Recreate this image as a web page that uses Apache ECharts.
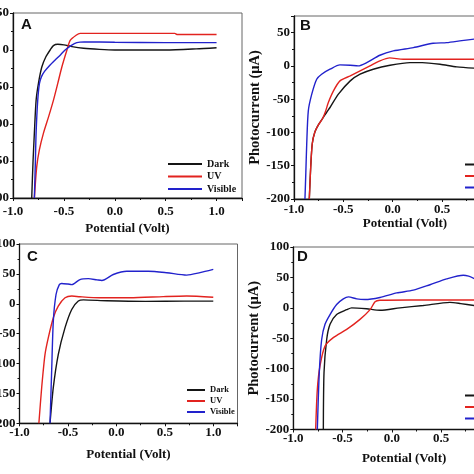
<!DOCTYPE html>
<html><head><meta charset="utf-8">
<script src="https://cdn.jsdelivr.net/npm/echarts@6/dist/echarts.min.js"></script>
<style>html,body{margin:0;padding:0;background:#fff}#c{width:474px;height:474px}</style>
</head><body><div id="c"></div>
<script>
// ---- data (potential in V, photocurrent in µA) ----
const seriesNames = ['Dark', 'UV', 'Visible'];
const xTicks = [-1.0, -0.5, 0.0, 0.5, 1.0];
const panelLetters = ['A', 'B', 'C', 'D'];

const aDark = [[-0.816,-200],[-0.803,-150],[-0.79,-112],[-0.773,-68],[-0.75,-45],[-0.717,-23],[-0.678,-9.5],[-0.635,0],[-0.603,5.9],[-0.56,7.7],[-0.5,7],[-0.42,4.5],[-0.307,2.3],[-0.15,0.8],[0,0],[0.5,0],[0.8,1.5],[1.0,3.1]];
const aUV = [[-0.79,-200],[-0.767,-158],[-0.741,-135],[-0.70,-112],[-0.65,-90],[-0.603,-68],[-0.56,-45],[-0.52,-23],[-0.47,0],[-0.438,13],[-0.38,20],[-0.34,22.5],[0,22.5],[0.59,22.5],[0.61,21],[1.0,21]];
const aVisible = [[-0.79,-200],[-0.78,-150],[-0.773,-112],[-0.757,-68],[-0.74,-45],[-0.72,-36],[-0.69,-29],[-0.64,-21],[-0.586,-13.5],[-0.53,-6],[-0.488,0],[-0.43,6],[-0.373,10],[-0.3,11],[0,10.5],[0.5,10],[1.0,10]];

const bDark = [[-0.845,-200],[-0.83,-150],[-0.815,-117],[-0.79,-100],[-0.75,-88],[-0.71,-79],[-0.67,-70],[-0.635,-62.5],[-0.55,-42.5],[-0.43,-22.5],[-0.33,-12.5],[-0.197,-5],[-0.027,1],[0.175,5],[0.3,5],[0.48,2.5],[0.65,-1.5],[0.84,-3.5]];
const bUV = [[-0.845,-200],[-0.83,-150],[-0.815,-117],[-0.79,-100],[-0.75,-88],[-0.71,-79],[-0.68,-68],[-0.652,-55],[-0.60,-37.5],[-0.534,-22.5],[-0.43,-15],[-0.33,-7.5],[-0.23,0],[-0.13,7.5],[-0.03,12],[0.107,10],[0.5,10],[0.84,10]];
const bVisible = [[-0.889,-200],[-0.88,-160],[-0.871,-117],[-0.855,-67.5],[-0.82,-42.5],[-0.77,-20],[-0.72,-12.5],[-0.635,-5],[-0.534,1.5],[-0.43,1],[-0.35,0],[-0.263,5],[-0.13,16],[0.006,22.5],[0.21,27.5],[0.41,34],[0.547,35],[0.7,38],[0.84,40.5]];

const cDark = [[-0.685,-200],[-0.651,-140],[-0.60,-85],[-0.53,-40],[-0.461,-9.5],[-0.393,4.5],[-0.34,6.5],[-0.1,5],[0.3,4],[0.7,4.5],[1.0,4.5]];
const cUV = [[-0.80,-200],[-0.771,-140],[-0.737,-85],[-0.703,-57],[-0.65,-23],[-0.60,-4],[-0.53,10],[-0.46,13],[-0.376,11.7],[-0.17,10],[0.14,10],[0.484,12],[0.725,13],[1.0,11]];
const cVisible = [[-0.685,-200],[-0.668,-112],[-0.651,-29],[-0.623,15.5],[-0.589,32],[-0.565,34],[-0.50,33],[-0.461,32],[-0.376,40.5],[-0.29,42],[-0.2,40],[-0.15,39],[-0.032,49],[0.107,54.5],[0.33,54.5],[0.52,52],[0.725,48],[0.863,52],[1.0,57.5]];

const dDark = [[-0.695,-200],[-0.688,-106],[-0.661,-52],[-0.627,-27],[-0.56,-11],[-0.458,-3],[-0.407,0],[-0.255,-1.6],[-0.12,-4],[0.083,0],[0.32,3.8],[0.59,9],[0.70,7],[0.84,3.8]];
const dUV = [[-0.773,-200],[-0.756,-134],[-0.729,-95.5],[-0.678,-63],[-0.594,-49],[-0.458,-35.5],[-0.323,-19],[-0.22,-3],[-0.17,10],[-0.12,12.5],[0.185,13],[0.84,13]];
const dVisible = [[-0.756,-200],[-0.736,-106],[-0.712,-52],[-0.678,-27],[-0.627,-11],[-0.56,5.5],[-0.492,14.7],[-0.44,18],[-0.356,14.7],[-0.272,13.6],[-0.12,17],[0.05,24.5],[0.218,29],[0.388,38],[0.557,47.5],[0.726,53.5],[0.78,52],[0.84,48]];

const panelData = [[aDark,aUV,aVisible],[bDark,bUV,bVisible],[cDark,cUV,cVisible],[dDark,dUV,dVisible]];
const yRanges = [[-200,50],[-200,75],[-200,100],[-200,100]];

// ---- layout ----
const colors = ['#151515', '#e2231f', '#2222cc'];
const SERIF = 'Liberation Serif';
const grids = [
  {left:13,  top:13,  width:229, height:185},
  {left:294, top:16,  width:222, height:183},
  {left:19.5,top:244, width:218, height:179.3},
  {left:293.3,top:247,width:221.6,height:182.5}
];
const xLabelMargin = [7, 4, 3, 2.5];
const xNameGap = [24.5, 12.5, 24.5, 23];
const letterPos = [[21,17],[300,18],[27,249],[297,249]];
const legendCfg = [
  {left:168, top:159, itemWidth:34, itemGap:2.5, fontSize:10},
  {left:465, top:159.5, itemWidth:34, itemGap:1.5, fontSize:10},
  {left:187, top:385.5, itemWidth:18, itemGap:2, fontSize:8.5},
  {left:465, top:390.5, itemWidth:34, itemGap:1.5, fontSize:10}
];

const option = {
  animation:false,
  backgroundColor:'#fff',
  title: panelLetters.map((t,i)=>({text:t, left:letterPos[i][0], top:letterPos[i][1], padding:0,
    textStyle:{fontFamily:'Liberation Sans', fontWeight:'bold', fontSize:15, color:'#111'}})),
  grid: grids.map(g=>Object.assign({show:true, borderColor:'#666', borderWidth:1, backgroundColor:'transparent', containLabel:false, outerBoundsMode:'none'}, g)),
  legend: legendCfg.map(l=>({orient:'vertical', left:l.left, top:l.top, itemWidth:l.itemWidth, itemHeight:2,
    icon:'rect', itemGap:l.itemGap, padding:0, data:seriesNames, selectedMode:false,
    textStyle:{fontFamily:SERIF, fontWeight:'bold', fontSize:l.fontSize, color:'#111'}})),
  xAxis: grids.map((g,i)=>({type:'value', gridIndex:i, min:xTicks[0], max:1.25, interval:0.5,
    name:'Potential (Volt)', nameLocation:'middle', nameGap:xNameGap[i],
    nameTextStyle:{fontFamily:SERIF, fontWeight:'bold', fontSize:13, color:'#111'},
    axisLine:{show:true, onZero:false, lineStyle:{color:'#111', width:1.3}},
    axisTick:{show:true, inside:false, length:3, lineStyle:{color:'#111', width:1}},
    minorTick:{show:true, splitNumber:2, length:2, lineStyle:{color:'#111'}},
    splitLine:{show:false},
    axisLabel:{showMaxLabel:false, margin:xLabelMargin[i], fontFamily:SERIF, fontWeight:'bold', fontSize:13, color:'#111',
      formatter:v=>v.toFixed(1)}})),
  yAxis: grids.map((g,i)=>({type:'value', gridIndex:i, min:yRanges[i][0], max:yRanges[i][1], interval:50,
    name:'Photocurrent (\u03bcA)', nameLocation:'middle', nameGap:30.5,
    nameTextStyle:{fontFamily:SERIF, fontWeight:'bold', fontSize:14.5, color:'#111'},
    axisLine:{show:true, onZero:false, lineStyle:{color:'#111', width:1.3}},
    axisTick:{show:true, inside:false, length:3, lineStyle:{color:'#111', width:1}},
    minorTick:{show:true, splitNumber:2, length:2, lineStyle:{color:'#111'}},
    splitLine:{show:false},
    axisLabel:{showMaxLabel: i!==1, margin:4, fontFamily:SERIF, fontWeight:'bold', fontSize:13, color:'#111'}})),
  series: []
};
panelData.forEach((arrs,i)=>{
  arrs.forEach((d,k)=>{
    option.series.push({type:'line', name:seriesNames[k], xAxisIndex:i, yAxisIndex:i, data:d,
      symbol:'none', smooth:0.25, clip:true,
      lineStyle:{color:colors[k], width:1.4}, itemStyle:{color:colors[k]}});
  });
});
const chart = echarts.init(document.getElementById('c'), null, {renderer:'canvas'});
chart.setOption(option);
</script></body></html>
